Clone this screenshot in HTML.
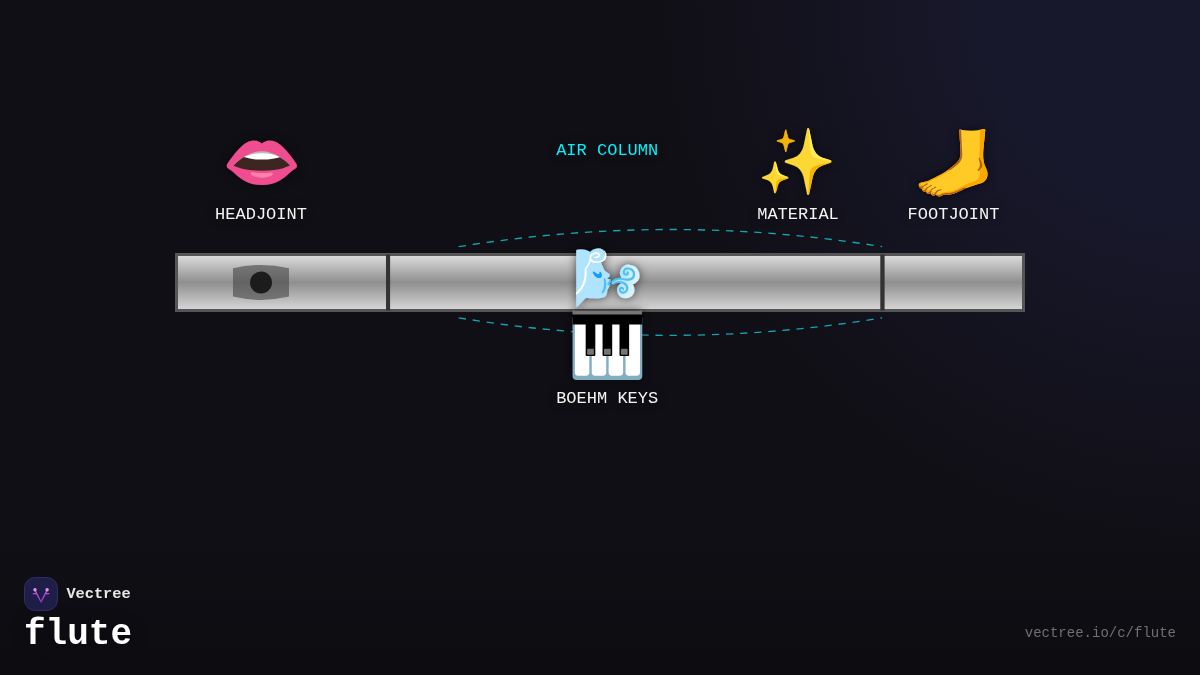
<!DOCTYPE html>
<html><head><meta charset="utf-8">
<style>
html,body{margin:0;padding:0;}
body{width:1200px;height:675px;overflow:hidden;background:#100f15;position:relative;font-family:"Liberation Mono",monospace;}
#bg{position:absolute;left:0;top:0;width:1200px;height:675px;
 background:radial-gradient(circle 1377px at 1200px 0px, rgba(24,24,44,1) 0%, rgba(24,24,44,1) 15%, rgba(24,24,44,0) 40%), linear-gradient(to bottom, rgba(0,0,0,0) 520px, rgba(0,0,0,.2) 675px), #100f15;}
.lbl{position:absolute;font-size:17px;line-height:20px;color:#f4f4f4;white-space:pre;transform:translateX(-50%);text-shadow:0 0 8px rgba(0,0,0,.5);}
svg{position:absolute;left:0;top:0;}
#txt{position:absolute;left:0;top:0;width:1200px;height:675px;will-change:transform;}
#brand{position:absolute;left:66.4px;top:585px;font-size:15.3px;line-height:18px;font-weight:bold;color:#e8e8e8;}
#title{position:absolute;left:24px;top:614px;font-size:36px;line-height:42px;font-weight:bold;color:#ffffff;text-shadow:0 2px 18px rgba(0,0,0,.45);}
#url{position:absolute;right:24px;top:624px;font-size:14px;line-height:18px;color:#6f6f74;}
.emo{font-family:"Noto Color Emoji","Apple Color Emoji","Segoe UI Emoji",sans-serif;font-size:1024px;}
</style></head><body>
<div id="bg"></div>
<svg width="1200" height="675" viewBox="0 0 1200 675">
<defs>
<linearGradient id="tube" x1="0" y1="0" x2="0" y2="1">
<stop offset="0" stop-color="#dedede"/><stop offset="0.5" stop-color="#8f8f8f"/><stop offset="1" stop-color="#d8d8d8"/>
</linearGradient>
<filter id="sh" x="-30%" y="-30%" width="160%" height="160%"><feDropShadow dx="0" dy="0" stdDeviation="5" flood-color="#000" flood-opacity="0.6"/></filter>
</defs>
<!-- air column arcs -->
<path d="M458.7 246.7 Q670.35 212.3 882.1 246.7" fill="none" stroke="#15a5b0" stroke-width="1.35" stroke-dasharray="7.3 6.82"/>
<path d="M458.7 317.8 Q670.35 352.9 882.1 317.8" fill="none" stroke="#15a5b0" stroke-width="1.35" stroke-dasharray="7.3 6.82"/>
<!-- tube -->
<rect x="176.5" y="254.5" width="847" height="56" fill="url(#tube)" stroke="#555555" stroke-width="3"/>
<rect x="386.0" y="254.5" width="4.1" height="56" fill="#333333"/>
<rect x="880.3" y="254.5" width="4.3" height="56" fill="#333333"/>
<!-- lip plate -->
<path d="M233 268.3 Q261 261.5 289 268.3 L289 296.6 Q261 303.2 233 296.6 Z" fill="#484848" fill-opacity="0.62"/>
<circle cx="261" cy="282.5" r="11" fill="#1c1c1c"/>
<g filter="url(#sh)">
<g transform="translate(222.2 184.4) scale(0.0625 0.0625)"><text class="emo" x="0" y="0">👄</text></g>
<g transform="translate(757.7 184.4) scale(0.0625 0.0625)"><text class="emo" x="0" y="0">✨</text></g>
<g transform="translate(995.37 187.91) scale(-0.06555625 0.06528125)"><text class="emo" x="0" y="0">🦶</text></g>
<g transform="translate(571.89 297.25) scale(0.0555 0.0555)"><text class="emo" x="0" y="0">🌬️</text></g>
<g transform="translate(568.6 367.06) scale(0.06181640625 0.06181640625)"><text class="emo" x="0" y="0">🎹</text></g>

</g>
<!-- logo -->
<rect x="24.5" y="577.5" width="33" height="33" rx="10.5" fill="#1f1e47" stroke="#2f2c6c" stroke-width="1"/>
<linearGradient id="lg" gradientUnits="userSpaceOnUse" x1="0" y1="589" x2="0" y2="603"><stop offset="0" stop-color="#d36cf2"/><stop offset="1" stop-color="#8e2cc9"/></linearGradient>
<g stroke="url(#lg)" stroke-width="1.3" fill="none" stroke-linecap="round" stroke-linejoin="round">
<path d="M35 590.2 L41 602 L47.1 590.2"/>
</g>
<g stroke="#b848e4" stroke-width="1.3" fill="none" stroke-linecap="butt">
<path d="M32.9 593.7 L36.8 593.7"/><path d="M45.3 593.7 L49.3 593.7"/>
</g>
<circle cx="35" cy="589.8" r="1.7" fill="#dc94f4"/><circle cx="47.1" cy="589.8" r="1.7" fill="#dc94f4"/>
</svg>
<div id="txt">
<div class="lbl" style="left:261px;top:205px;">HEADJOINT</div>
<div class="lbl" style="left:607.2px;top:141px;color:#05f0fc;">AIR COLUMN</div>
<div class="lbl" style="left:798px;top:205px;">MATERIAL</div>
<div class="lbl" style="left:953.5px;top:205px;">FOOTJOINT</div>
<div class="lbl" style="left:607.2px;top:389px;">BOEHM KEYS</div>
<div id="brand">Vectree</div>
<div id="title">flute</div>
<div id="url">vectree.io/c/flute</div>
</div>
</body></html>
